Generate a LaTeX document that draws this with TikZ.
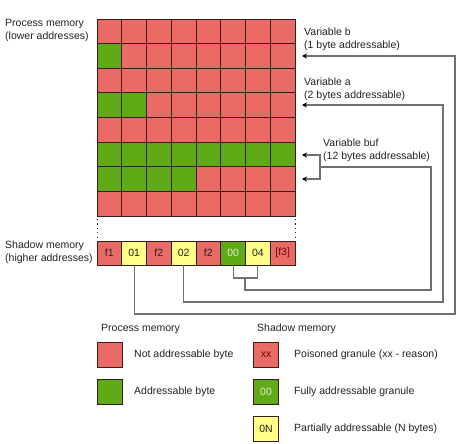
\documentclass[tikz,border=0pt]{standalone}
\usepackage{fontspec}
\setmainfont{Liberation Sans}
\usetikzlibrary{arrows.meta}
\definecolor{cred}{HTML}{EA6B66}
\definecolor{cgreen}{HTML}{60A917}
\definecolor{cyellow}{HTML}{FFFF88}
\definecolor{gridline}{HTML}{3A1E1E}
\definecolor{wire}{HTML}{707070}
\definecolor{txt}{HTML}{222222}
\definecolor{lightg}{HTML}{DDF2C8}
\definecolor{darkr}{HTML}{6A0A0A}
\begin{document}
\begin{tikzpicture}[x=1pt,y=-1pt,font=\fontsize{10.5}{13}\selectfont,
  cellbox/.style={draw=gridline,line width=0.8pt,minimum width=24.75pt,minimum height=24.6pt,inner sep=0pt,outer sep=0pt},
  shbox/.style={draw=gridline,line width=0.8pt,minimum width=24.75pt,minimum height=24pt,inner sep=0pt,outer sep=0pt},
  legbox/.style={draw=gridline,line width=0.8pt,minimum width=25pt,minimum height=25pt,inner sep=0pt,outer sep=0pt},
  lbl/.style={anchor=west,align=left,inner sep=0pt,text=txt},
  wirestyle/.style={draw=wire,line width=1.1pt},
  arr/.style={wirestyle,-{Stealth[length=5pt,width=5pt,color=black]}}]
\useasboundingbox (0,0) rectangle (474,444);
% process memory grid
\foreach \r in {0,...,7}{
  \foreach \c in {0,...,7}{
    \pgfmathtruncatemacro\g{or(or(and(\r==1,\c<1),and(\r==3,\c<2)),or(\r==5,and(\r==6,\c<4)))}
    \ifnum\g=1 \def\fc{cgreen}\else\def\fc{cred}\fi
    \node[cellbox,fill=\fc] (g-\r-\c) at ({97+(\c+0.5)*24.75},{19+(\r+0.5)*24.625}) {};
  }
}
% dotted continuation
\draw[gridline,line width=1pt,dash pattern=on 1.2pt off 3.2pt] (97,219) -- (97,238);
\draw[gridline,line width=1pt,dash pattern=on 1.2pt off 3.2pt] (295,219) -- (295,238);
% shadow memory
\foreach \i/\fc/\tx/\tc in {0/cred/f1/txt,1/cyellow/01/txt,2/cred/f2/txt,3/cyellow/02/txt,4/cred/f2/txt,5/cgreen/00/lightg,6/cyellow/04/txt,7/cred/{[f3]}/darkr}{
  \node[shbox,fill=\fc,text=\tc] (s\i) at ({97+(\i+0.5)*24.75},253) {\tx};
}
% labels
\node[lbl] (lpm) at (5,30.5) {Process memory\\(lower addresses)};
\node[lbl] (lsm) at (5,252.5) {Shadow memory\\(higher addresses)};
\node[lbl] (lvb) at (304,39.5) {Variable b\\(1 byte addressable)};
\node[lbl] (lva) at (304,89) {Variable a\\(2 bytes addressable)};
\node[lbl] (lvbuf) at (323,150.5) {Variable buf\\(12 bytes addressable)};
% connectors
\coordinate (bA) at (455,314);
\coordinate (bT) at (302,56);
\draw[arr] (s1.south) |- (bA) |- (bT);
\coordinate (aA) at (443,302);
\coordinate (aT) at (302,105);
\draw[arr] (s3.south) |- (aA) |- (aT);
\coordinate (jn) at (245,278);
\draw[wirestyle] (s5.south) |- (jn) -| (s6.south);
\coordinate (cA) at (431,290);
\coordinate (cB) at (320,167);
\draw[wirestyle] (jn) |- (cA) |- (cB);
\coordinate (t1) at (302,155);
\coordinate (t2) at (302,179);
\draw[arr] (cB) |- (t1);
\draw[arr] (cB) |- (t2);
% legend
\node[lbl] (hp) at (101,329) {Process memory};
\node[lbl] (hs) at (257,329) {Shadow memory};
\node[legbox,fill=cred] (k1) at (109.5,354.5) {};
\node[lbl] (k1t) at (134,354.5) {Not addressable byte};
\node[legbox,fill=cgreen] (k2) at (109.5,391.5) {};
\node[lbl] (k2t) at (134,391.5) {Addressable byte};
\node[legbox,fill=cred,text=darkr] (k3) at (266,354.5) {xx};
\node[lbl] (k3t) at (294,354.5) {Poisoned granule (xx - reason)};
\node[legbox,fill=cgreen,text=lightg] (k4) at (266,391.5) {00};
\node[lbl] (k4t) at (294,391.5) {Fully addressable granule};
\node[legbox,fill=cyellow,text=txt] (k5) at (266,428.5) {0N};
\node[lbl] (k5t) at (294,428.5) {Partially addressable (N bytes)};
\end{tikzpicture}
\end{document}
